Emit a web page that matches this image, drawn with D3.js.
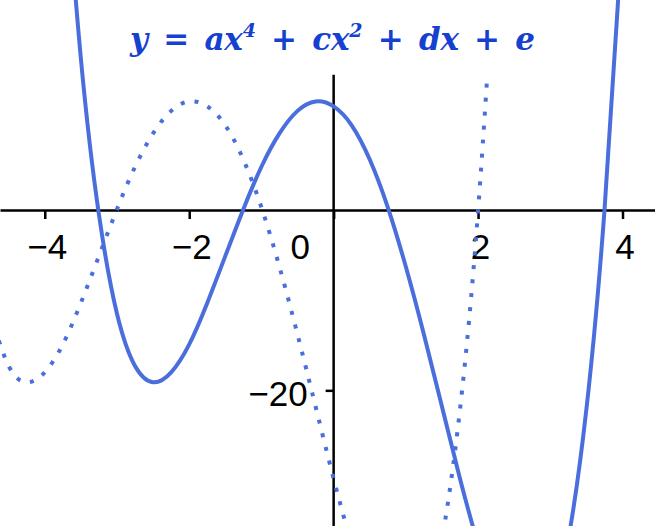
<!DOCTYPE html>
<html>
<head>
<meta charset="utf-8">
<script src="https://cdn.jsdelivr.net/npm/d3@7"></script>
<style>
  html, body { margin: 0; padding: 0; background: #fff; overflow: hidden; }
  svg { display: block; }
</style>
</head>
<body>
<div id="chart"></div>
<script>
// --- Data ---
const xTicks = [-4, -2, 0, 2, 4];
const xTickLabels = ["\u22124", "\u22122", "0", "2", "4"];
const yTicks = [-20];
const yTickLabels = ["\u221220"];

// solid curve (the quartic)
const xSolid = [-3.75, -3.5, -3.25, -3.0, -2.75, -2.5, -2.25, -2.0, -1.75, -1.5, -1.25, -1.0,
                -0.75, -0.5, -0.25, 0, 0.25, 0.5, 0.75, 1.0, 1.25, 1.5, 1.75, 2.0,
                2.25, 2.5, 2.75, 3.0, 3.25, 3.5, 3.75, 4.0];
const ySolid = [41.5, 16.8, -0.5, -11.5, -17.3, -19.1, -18.0, -14.9, -10.3, -5.1, 0.1, 4.8,
                8.5, 11.0, 12.05, 11.5, 9.4, 5.6, 0.3, -6.3, -13.8, -21.8, -29.8, -37.1,
                -43.1, -47.0, -47.9, -44.8, -36.5, -22.1, -0.1, 30.8];

// dotted curve (same shape, shifted left)
const xDotted = [-4.75, -4.5, -4.25, -4.0, -3.75, -3.5, -3.25, -3.0, -2.75, -2.5, -2.25, -2.0,
                 -1.75, -1.5, -1.25, -1.0, -0.75, -0.5, -0.25, 0, 0.25, 0.5, 0.75, 1.0,
                 1.25, 1.5, 1.75, 2.0, 2.25];
const yDotted = [-11.5, -17.3, -19.1, -18.0, -14.9, -10.3, -5.1, 0.1, 4.8, 8.5, 11.0, 12.05,
                 11.5, 9.4, 5.6, 0.3, -6.3, -13.8, -21.8, -29.8, -37.1, -43.1, -47.0, -47.9,
                 -44.8, -36.5, -22.1, -0.1, 30.8];

// --- Layout ---
const W = 655, H = 526;
const xDomain = [-4.62, 4.45];
const yDomain = [23.3, -35.05];
const yAxisTop = 15;

const curveColor = "#4a6fdc";
const titleColor = "#1540d0";

const x = d3.scaleLinear().domain(xDomain).range([0, W]);
const y = d3.scaleLinear().domain(yDomain).range([0, H]);

const svg = d3.select("#chart").append("svg")
    .attr("width", W)
    .attr("height", H);

// clip for the dotted curve: stops at the top of the y axis
svg.append("defs").append("clipPath")
    .attr("id", "plotClip")
  .append("rect")
    .attr("x", 0)
    .attr("y", y(yAxisTop))
    .attr("width", W)
    .attr("height", H - y(yAxisTop));

// --- Axes ---
const xAxisG = svg.append("g")
    .attr("transform", `translate(0,${y(0)})`)
    .call(d3.axisBottom(x)
        .tickValues(xTicks)
        .tickSize(9)
        .tickSizeOuter(0)
        .tickFormat((d, i) => xTickLabels[i]));

const yAxisG = svg.append("g")
    .attr("transform", `translate(${x(0)},0)`)
    .call(d3.axisLeft(y)
        .tickValues(yTicks)
        .tickSize(8)
        .tickFormat((d, i) => yTickLabels[i]));
yAxisG.select(".domain").remove();

svg.append("line")
    .attr("x1", x(0)).attr("x2", x(0))
    .attr("y1", y(yAxisTop)).attr("y2", H)
    .attr("stroke", "#000")
    .attr("stroke-width", 2.5);

[xAxisG, yAxisG].forEach(g => {
    g.selectAll("path, line").attr("stroke", "#000").attr("stroke-width", 2.5);
    g.selectAll("text")
        .attr("fill", "#000")
        .attr("font-family", "'Liberation Sans', Arial, sans-serif")
        .attr("font-size", 35);
});

xAxisG.selectAll(".tick text")
    .attr("y", 49)
    .attr("dy", 0)
    .attr("dx", 2)
    .filter(d => d === 0)
    .attr("x", -36);

yAxisG.selectAll(".tick text")
    .attr("x", -26)
    .attr("dy", 0)
    .attr("y", 15);

// --- Curves ---
const line = d3.line()
    .x(d => x(d[0]))
    .y(d => y(d[1]))
    .curve(d3.curveNatural);

svg.append("path")
    .datum(xDotted.map((v, i) => [v, yDotted[i]]))
    .attr("clip-path", "url(#plotClip)")
    .attr("fill", "none")
    .attr("stroke", curveColor)
    .attr("stroke-width", 4)
    .attr("stroke-dasharray", "4 10")
    .attr("d", line);

svg.append("path")
    .datum(xSolid.map((v, i) => [v, ySolid[i]]))
    .attr("fill", "none")
    .attr("stroke", curveColor)
    .attr("stroke-width", 4)
    .attr("stroke-linejoin", "round")
    .attr("d", line);

// --- Title ---
// wider (en) spaces round the operators, like TeX spacing
const titleParts = [
    { t: "y" }, { t: "\u2002=\u2002", op: true }, { t: "ax" }, { t: "4", sup: true },
    { t: "\u2002+\u2002", op: true }, { t: "cx" }, { t: "2", sup: true },
    { t: "\u2002+\u2002", op: true }, { t: "dx" }, { t: "\u2002+\u2002", op: true }, { t: "e" }
];

const title = svg.append("text")
    .attr("x", 130)
    .attr("y", 50)
    .attr("fill", titleColor)
    .attr("font-family", "'DejaVu Serif', serif")
    .attr("font-size", 31)
    .attr("font-weight", "bold")
    .attr("font-style", "italic")
    .attr("textLength", 405)
    .attr("lengthAdjust", "spacing")
    .style("white-space", "pre");

let raised = false;
titleParts.forEach(p => {
    const ts = title.append("tspan").text(p.t);
    if (p.op) ts.attr("font-style", "normal");
    if (p.sup) {
        ts.attr("font-size", 19).attr("dy", -13);
        raised = true;
    } else if (raised) {
        ts.attr("dy", 13);
        raised = false;
    }
});
</script>
</body>
</html>
